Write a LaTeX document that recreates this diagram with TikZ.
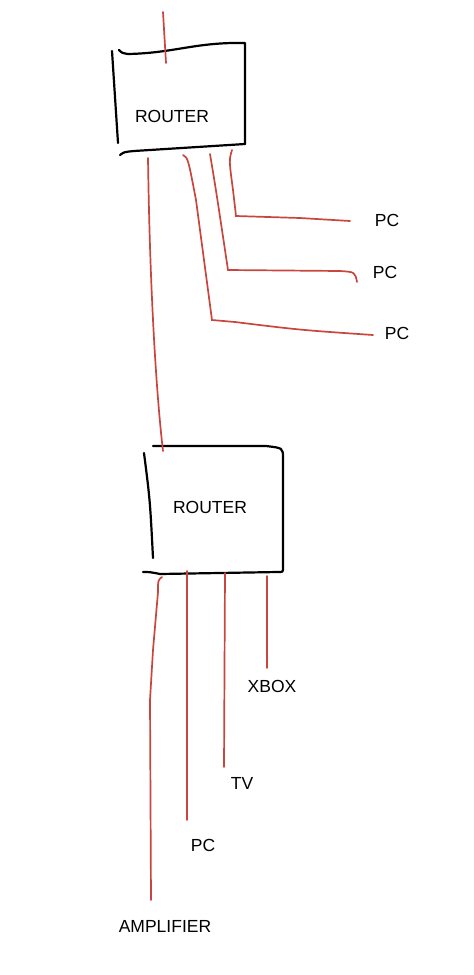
\documentclass[tikz,border=0pt]{standalone}
\usepackage{fontspec}
\setmainfont{Liberation Sans}
\usetikzlibrary{positioning}
\definecolor{cable}{RGB}{200,70,62}
\tikzset{
outline/.style={draw=black,
  line width=2.2pt,
    line cap=round,
    line join=round},
wire/.style={draw=cable,
  line width=1.7pt,
  line cap=round},
lbl/.style={font=\fontsize{17.5}{20}\selectfont,
  inner sep=6pt},
}

\begin{document}
\begin{tikzpicture}[x=1pt,y=-1pt]
    \useasboundingbox (0,0) rectangle (474,975);

    \node [lbl] (r1) at (172,116) {ROUTER};
    \node [lbl] (r2) at (210,507) {ROUTER};

    \node [lbl] (pc1) at (387,220) {PC};
    \node [lbl] (pc2) at (385,272) {PC};
    \node [lbl] (pc3) at (397,333) {PC};
    \node [lbl] (xbox) at (272,686) {XBOX};
    \node [lbl] (tv) at (242,783) {TV};
    \node [lbl] (pc4) at (203,845) {PC};
    \node [lbl] (amp) at (165,926) {AMPLIFIER};

    % ports on the routers
    \coordinate (r1in) at (163,12);
    \coordinate (r1top) at (166,63);
    \coordinate (r1a) at (148,158);
    \coordinate (r1b) at (183,155);
    \coordinate (r1c) at (210,154);
    \coordinate (r1d) at (232,150);
    \coordinate (r2in) at (163,451);
    \coordinate (r2a) at (162,577);
    \coordinate (r2b) at (187,571);
    \coordinate (r2c) at (225,573);
    \coordinate (r2d) at (267,576);

    % free ends of the cables
    \coordinate (pc1end) at (350,221);
    \coordinate (pc2end) at (357,282);
    \coordinate (pc3end) at (373,335);
    \coordinate (xboxend) at (267,668);
    \coordinate (tvend) at (224,767);
    \coordinate (pc4end) at (187,820);
    \coordinate (ampend) at (151,900);

    % hand drawn boxes
    \draw [outline] (112,51) -- (118,143);
    \draw [outline] (119,50) .. controls (122,53) .. (128,54) .. controls (175,53) and (195,42) .. (245,43) -- (245,144);
    \draw [outline] (120,155) .. controls (124,152) .. (134,151) -- (245,144);

    \draw [outline] (144,453) .. controls (150,500) .. (153,558);
    \draw [outline] (153,446) -- (266,446) .. controls (283,448) .. (283,458) -- (283,568) .. controls (283,572) .. (278,572) -- (160,574) .. controls (150,572) .. (143,572);

    % cables
  \draw [wire] (r1in) -- (r1top);
  \draw [wire] (r1a) .. controls (150,300) and (157,400) .. (r2in);

  \draw [wire] (r1d) .. controls (229,160) .. (233,190) -- (236,216) -- (300,218) -- (pc1end);
  \draw [wire] (r1c) .. controls (216,190) .. (228,270) -- (340,271) .. controls (355,272) .. (pc2end);
  \draw [wire] (r1b) .. controls (188,158) .. (196,200) -- (212,320) -- (235,322) .. controls (300,330) .. (pc3end);

  \draw [wire] (r2a) .. controls (158,580) .. (158,592) -- (153,650) -- (150,700) -- (ampend);
  \draw [wire] (r2b) -- (pc4end);
  \draw [wire] (r2c) -- (tvend);
  \draw [wire] (r2d) -- (xboxend);
  \end{tikzpicture}
\end{document}
